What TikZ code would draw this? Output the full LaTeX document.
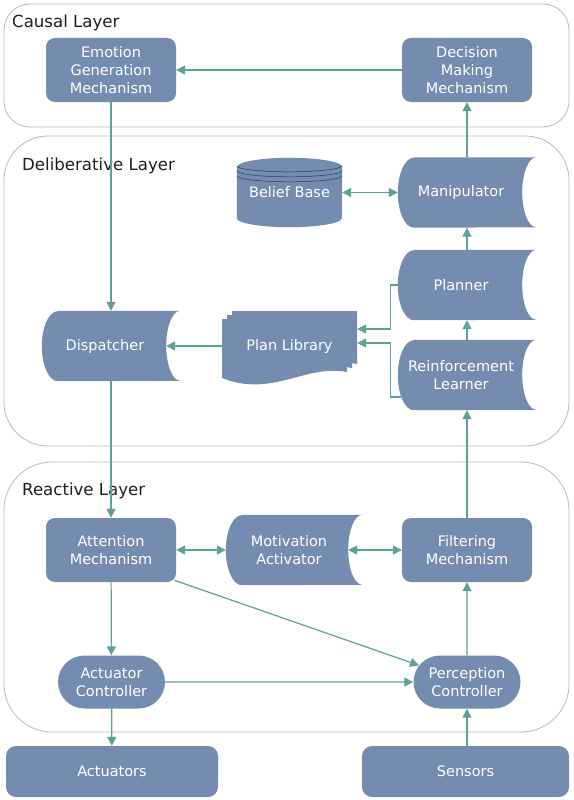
\documentclass[tikz,border=0pt]{standalone}
\usepackage{fontspec}
\setmainfont{DejaVu Sans}
\usetikzlibrary{arrows.meta,shapes.misc,backgrounds,calc}
\definecolor{boxfill}{RGB}{115,140,175}
\definecolor{arrowc}{RGB}{95,160,155}
\definecolor{layerc}{RGB}{185,185,185}
\definecolor{bbline}{RGB}{45,60,85}
\definecolor{titlec}{RGB}{30,30,30}
\newcommand{\myNodeFont}{\fontsize{14.5}{18}\selectfont}
\newcommand{\myTitleFont}{\fontsize{16.6}{20}\selectfont}
\newcommand{\plpage}[2]{%
  \begin{scope}[shift={(#1,#2)}]
    \fill[boxfill] (0,0) -- (125,0) -- (125,-53) .. controls (83,-45) and (50,-79) .. (0,-59) -- cycle;
  \end{scope}}
\begin{document}
\begin{tikzpicture}[x=1pt,y=1pt,
  layer/.style={draw=layerc, line width=0.8pt},
  title/.style={font=\myTitleFont, text=titlec, inner sep=2pt, anchor=west},
  box/.style={rectangle, rounded corners=9pt, fill=boxfill, text=white, font=\myNodeFont, align=center, inner sep=0pt},
  stadium/.style={rounded rectangle, fill=boxfill, text=white, font=\myNodeFont, align=center, inner sep=0pt, minimum width=107pt, minimum height=53pt},
  sdnode/.style={rectangle, minimum width=138pt, minimum height=70pt, text=white, font=\myNodeFont, align=center, inner sep=0pt},
  plainnode/.style={rectangle, text=white, font=\myNodeFont, align=center, inner sep=0pt},
  arr/.style={draw=arrowc, line width=1.2pt, -{Triangle[length=9pt,width=9pt]}},
  darr/.style={draw=arrowc, line width=1.2pt, {Triangle[length=9pt,width=9pt]}-{Triangle[length=9pt,width=9pt]}},
  ]
\useasboundingbox (0,0) rectangle (573,-800);
% layers
\draw[layer, rounded corners=26pt] (4,-4) rectangle (569,-127);
\draw[layer, rounded corners=44pt] (4,-136) rectangle (569,-446);
\draw[layer, rounded corners=48pt] (4,-462) rectangle (569,-732);
\node[title] (tc) at (10,-23) {Causal Layer};
\node[title] (td) at (20,-166) {Deliberative Layer};
\node[title] (tr) at (20,-491) {Reactive Layer};
% causal
\node[box, minimum width=130pt, minimum height=64pt] (emo) at (111,-70) {Emotion\\Generation\\Mechanism};
\node[box, minimum width=130pt, minimum height=64pt] (dec) at (467,-70) {Decision\\Making\\Mechanism};
% deliberative
\node[plainnode, minimum width=105pt, minimum height=69pt] (bb) at (289.5,-192.5) {Belief Base};
\node[sdnode] (man) at (467,-192.5) {\hspace*{-12pt}Manipulator};
\node[sdnode] (plan) at (467,-285) {\hspace*{-12pt}Planner};
\node[sdnode] (rl) at (467,-375) {\hspace*{-12pt}Reinforcement\\\hspace*{-12pt}Learner};
\node[sdnode] (disp) at (111,-346) {\hspace*{-12pt}Dispatcher};
\node[plainnode, minimum width=135pt, minimum height=70pt] (pl) at (289.5,-346) {Plan Library};
% reactive
\node[box, minimum width=130pt, minimum height=64pt] (att) at (111,-550) {Attention\\Mechanism};
\node[sdnode, minimum width=136pt] (mot) at (294,-550) {\hspace*{-10pt}Motivation\\\hspace*{-10pt}Activator};
\node[box, minimum width=130pt, minimum height=64pt] (filt) at (467,-550) {Filtering\\Mechanism};
\node[stadium] (ac) at (111.5,-682) {Actuator\\Controller};
\node[stadium] (pc) at (467,-682) {Perception\\Controller};
\node[box, rounded corners=10pt, minimum width=212pt, minimum height=51pt] (act) at (112,-771.5) {Actuators};
\node[box, rounded corners=10pt, minimum width=207pt, minimum height=51pt] (sen) at (465.5,-771.5) {Sensors};
% shapes behind text
\begin{scope}[on background layer]
  \foreach \n in {man,plan,rl,disp,mot} {
    \fill[boxfill] ([xshift=16pt]\n.north west) -- (\n.north east)
      arc[start angle=90,end angle=270,x radius=14pt,y radius=35pt]
      -- ([xshift=16pt]\n.south west)
      arc[start angle=270,end angle=90,x radius=16pt,y radius=35pt] -- cycle;
  }
  % belief base cylinder
  \fill[boxfill] ([yshift=-9pt]bb.north west) -- ([yshift=9pt]bb.south west)
    arc[start angle=180,end angle=360,x radius=52.5pt,y radius=9pt]
    -- ([yshift=-9pt]bb.north east)
    arc[start angle=0,end angle=180,x radius=52.5pt,y radius=9pt] -- cycle;
  \foreach \d in {8,13,18} {
    \draw[bbline, line width=0.5pt] ([yshift=-\d pt]bb.north west)
      arc[start angle=180,end angle=360,x radius=52.5pt,y radius=6pt];
  }
  % plan library pages
  \plpage{232}{-311}
  \plpage{227}{-315}
  \plpage{222}{-319}
\end{scope}
% connectors
\draw[arr] (dec) -- (emo);
\draw[arr] (man) -- (dec);
\draw[arr] (plan) -- (man);
\draw[arr] (rl) -- (plan);
\draw[darr] (bb.east) -- (man.west);
\draw[arr] (emo) -- (disp);
\draw[arr] (pl.west) -- ([xshift=-14pt]disp.east);
\draw[arr] (plan.west) -- ++(-7,0) |- ([yshift=17pt]pl.east);
\draw[arr] ([shift={(3.6,-22)}]rl.west) -- ++(-10.6,0) |- ([yshift=3pt]pl.east);
\draw[arr] (disp) -- (att);
\draw[darr] (att.east) -- (mot.west);
\draw[darr] ([xshift=-14pt]mot.east) -- (filt.west);
\draw[arr] (filt) -- (rl);
\draw[arr] ([shift={(-2,2)}]att.south east) -- (pc);
\draw[arr] (att) -- (ac);
\draw[arr] (ac) -- (pc);
\draw[arr] (pc) -- (filt);
\draw[arr] (ac) -- (act);
\draw[arr] (sen.north -| pc.south) -- (pc.south);
\end{tikzpicture}
\end{document}
